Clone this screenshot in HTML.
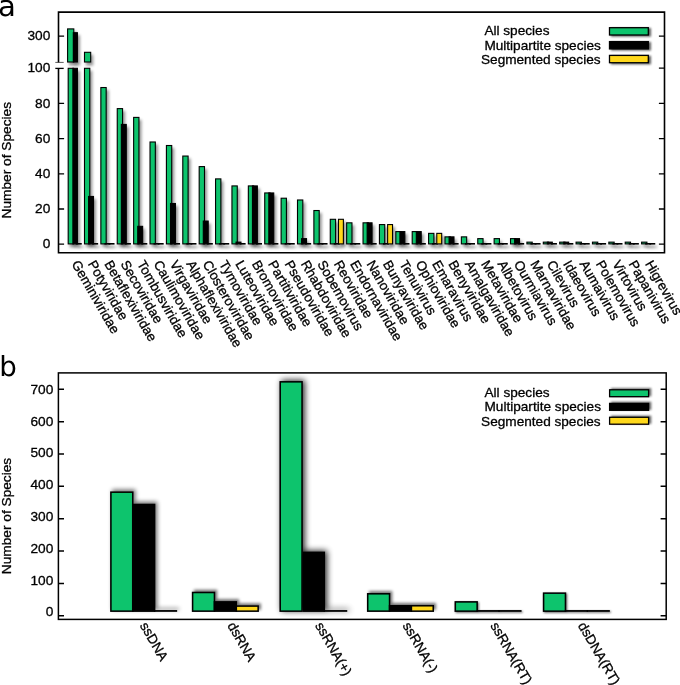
<!DOCTYPE html>
<html lang="en"><head><meta charset="utf-8"><title>Number of Species</title>
<style>html,body{margin:0;padding:0;background:#fff;}body{width:680px;height:685px;overflow:hidden;}svg{display:block;}text{font-family:"Liberation Sans",sans-serif;fill:#000;stroke:#000;stroke-width:0.3px;}.pl{font-family:"DejaVu Sans",sans-serif;font-size:27.7px;stroke:none;text-rendering:geometricPrecision;}.tk{font-size:13.7px;}.cat{font-size:13.45px;}.lg{font-size:13.62px;}.yl{font-size:13.7px;}</style></head><body>
<svg width="680" height="685" viewBox="0 0 680 685">
<defs><filter id="shA" x="-50%" y="-20%" width="250%" height="150%" filterUnits="objectBoundingBox"><feGaussianBlur in="SourceAlpha" stdDeviation="1.7"/><feOffset dx="1.7" dy="2.6" result="b"/><feComponentTransfer in="b" result="s"><feFuncA type="linear" slope="0.45"/></feComponentTransfer><feMerge><feMergeNode in="s"/><feMergeNode in="SourceGraphic"/></feMerge></filter><filter id="shB" x="-20%" y="-150%" width="150%" height="400%" filterUnits="objectBoundingBox"><feGaussianBlur in="SourceAlpha" stdDeviation="1.8"/><feOffset dx="2.4" dy="-2.4" result="b"/><feComponentTransfer in="b" result="s"><feFuncA type="linear" slope="0.55"/></feComponentTransfer><feMerge><feMergeNode in="s"/><feMergeNode in="SourceGraphic"/></feMerge></filter><filter id="shB2" x="-20%" y="-20%" width="150%" height="140%" filterUnits="objectBoundingBox"><feGaussianBlur in="SourceAlpha" stdDeviation="2.0"/><feOffset dx="2.4" dy="-2.0" result="b"/><feComponentTransfer in="b" result="s"><feFuncA type="linear" slope="0.55"/></feComponentTransfer><feMerge><feMergeNode in="s"/><feMergeNode in="SourceGraphic"/></feMerge></filter><filter id="shB3" x="-20%" y="-10%" width="150%" height="120%" filterUnits="objectBoundingBox"><feGaussianBlur in="SourceAlpha" stdDeviation="3"/><feOffset dx="2.0" dy="-0.6" result="b"/><feComponentTransfer in="b" result="s"><feFuncA type="linear" slope="0.85"/></feComponentTransfer><feMerge><feMergeNode in="s"/><feMergeNode in="SourceGraphic"/></feMerge></filter><filter id="shL" x="-10%" y="-50%" width="125%" height="220%" filterUnits="objectBoundingBox"><feGaussianBlur in="SourceAlpha" stdDeviation="1.1"/><feOffset dx="1.8" dy="1.0" result="b"/><feComponentTransfer in="b" result="s"><feFuncA type="linear" slope="0.65"/></feComponentTransfer><feMerge><feMergeNode in="s"/><feMergeNode in="SourceGraphic"/></feMerge></filter><filter id="shL2" x="-10%" y="-80%" width="125%" height="220%" filterUnits="objectBoundingBox"><feGaussianBlur in="SourceAlpha" stdDeviation="1.2"/><feOffset dx="1.6" dy="-1.0" result="b"/><feComponentTransfer in="b" result="s"><feFuncA type="linear" slope="0.6"/></feComponentTransfer><feMerge><feMergeNode in="s"/><feMergeNode in="SourceGraphic"/></feMerge></filter><filter id="shAo" x="0" y="0" width="680" height="300" filterUnits="userSpaceOnUse"><feGaussianBlur in="SourceAlpha" stdDeviation="1.7"/><feOffset dx="1.7" dy="2.6" result="b"/><feComponentTransfer in="b"><feFuncA type="linear" slope="0.42"/></feComponentTransfer></filter><filter id="shB4" x="-20%" y="-150%" width="150%" height="400%" filterUnits="objectBoundingBox"><feGaussianBlur in="SourceAlpha" stdDeviation="1.0"/><feOffset dx="1.4" dy="0.8" result="b"/><feComponentTransfer in="b" result="s"><feFuncA type="linear" slope="0.6"/></feComponentTransfer><feMerge><feMergeNode in="s"/><feMergeNode in="SourceGraphic"/></feMerge></filter></defs>
<rect x="0" y="0" width="680" height="685" fill="#fff"/>
<g id="panelA">
<text class="pl" style="font-size:29.2px" x="-2.0" y="15.6">a</text>
<g filter="url(#shAo)" stroke="#000" stroke-width="1.10">
<rect x="68.20" y="68.30" width="5.3" height="175.60" fill="#0dc46d"/>
<rect x="67.60" y="28.90" width="6.20" height="33.10" fill="#0dc46d"/>
<rect x="84.49" y="68.30" width="5.3" height="175.60" fill="#0dc46d"/>
<rect x="84.49" y="52.30" width="6.20" height="9.70" fill="#0dc46d"/>
<rect x="100.87" y="87.53" width="5.3" height="156.37" fill="#0dc46d"/>
<rect x="117.26" y="108.61" width="5.3" height="135.29" fill="#0dc46d"/>
<rect x="133.64" y="117.40" width="5.3" height="126.50" fill="#0dc46d"/>
<rect x="150.03" y="141.99" width="5.3" height="101.91" fill="#0dc46d"/>
<rect x="166.42" y="145.51" width="5.3" height="98.39" fill="#0dc46d"/>
<rect x="182.80" y="156.05" width="5.3" height="87.85" fill="#0dc46d"/>
<rect x="199.19" y="166.59" width="5.3" height="77.31" fill="#0dc46d"/>
<rect x="215.57" y="178.89" width="5.3" height="65.01" fill="#0dc46d"/>
<rect x="231.96" y="185.92" width="5.3" height="57.98" fill="#0dc46d"/>
<rect x="248.35" y="185.92" width="5.3" height="57.98" fill="#0dc46d"/>
<rect x="264.73" y="192.95" width="5.3" height="50.95" fill="#0dc46d"/>
<rect x="281.12" y="198.22" width="5.3" height="45.68" fill="#0dc46d"/>
<rect x="297.50" y="199.98" width="5.3" height="43.92" fill="#0dc46d"/>
<rect x="313.89" y="210.52" width="5.3" height="33.38" fill="#0dc46d"/>
<rect x="330.28" y="219.30" width="5.3" height="24.60" fill="#0dc46d"/>
<rect x="346.66" y="222.82" width="5.3" height="21.08" fill="#0dc46d"/>
<rect x="363.05" y="222.82" width="5.3" height="21.08" fill="#0dc46d"/>
<rect x="379.43" y="224.57" width="5.3" height="19.33" fill="#0dc46d"/>
<rect x="395.82" y="231.60" width="5.3" height="12.30" fill="#0dc46d"/>
<rect x="412.21" y="231.60" width="5.3" height="12.30" fill="#0dc46d"/>
<rect x="428.59" y="233.36" width="5.3" height="10.54" fill="#0dc46d"/>
<rect x="444.98" y="236.87" width="5.3" height="7.03" fill="#0dc46d"/>
<rect x="461.36" y="236.87" width="5.3" height="7.03" fill="#0dc46d"/>
<rect x="477.75" y="238.63" width="5.3" height="5.27" fill="#0dc46d"/>
<rect x="494.14" y="238.63" width="5.3" height="5.27" fill="#0dc46d"/>
<rect x="510.52" y="238.63" width="5.3" height="5.27" fill="#0dc46d"/>
<rect x="526.91" y="242.14" width="5.3" height="1.76" fill="#0dc46d"/>
<rect x="543.29" y="242.14" width="5.3" height="1.76" fill="#0dc46d"/>
<rect x="559.68" y="242.14" width="5.3" height="1.76" fill="#0dc46d"/>
<rect x="576.07" y="242.14" width="5.3" height="1.76" fill="#0dc46d"/>
<rect x="592.45" y="242.14" width="5.3" height="1.76" fill="#0dc46d"/>
<rect x="608.84" y="242.14" width="5.3" height="1.76" fill="#0dc46d"/>
<rect x="625.22" y="242.14" width="5.3" height="1.76" fill="#0dc46d"/>
<rect x="641.61" y="242.14" width="5.3" height="1.76" fill="#0dc46d"/>
</g>
<g filter="url(#shAo)" stroke="#000" stroke-width="1.10">
<rect x="72.90" y="68.30" width="4.5" height="175.60" fill="#000000"/>
<rect x="73.30" y="32.70" width="4.10" height="29.30" fill="#000000"/>
<rect x="88.59" y="196.46" width="4.9" height="47.44" fill="#000000"/>
<line x1="104.42" y1="243.8" x2="110.42" y2="243.8" stroke-width="1.6"/>
<rect x="121.36" y="124.42" width="4.9" height="119.48" fill="#000000"/>
<rect x="137.74" y="226.33" width="4.9" height="17.57" fill="#000000"/>
<line x1="153.58" y1="243.8" x2="159.58" y2="243.8" stroke-width="1.6"/>
<rect x="170.52" y="203.49" width="4.9" height="40.41" fill="#000000"/>
<line x1="186.35" y1="243.8" x2="192.35" y2="243.8" stroke-width="1.6"/>
<rect x="203.29" y="221.06" width="4.9" height="22.84" fill="#000000"/>
<line x1="219.12" y1="243.8" x2="225.12" y2="243.8" stroke-width="1.6"/>
<rect x="236.06" y="242.14" width="4.9" height="1.76" fill="#000000"/>
<rect x="252.45" y="185.92" width="4.9" height="57.98" fill="#000000"/>
<rect x="268.83" y="192.95" width="4.9" height="50.95" fill="#000000"/>
<line x1="284.67" y1="243.8" x2="290.67" y2="243.8" stroke-width="1.6"/>
<rect x="301.60" y="238.63" width="4.9" height="5.27" fill="#000000"/>
<line x1="317.44" y1="243.8" x2="323.44" y2="243.8" stroke-width="1.6"/>
<line x1="333.83" y1="243.8" x2="339.83" y2="243.8" stroke-width="1.6"/>
<line x1="350.21" y1="243.8" x2="356.21" y2="243.8" stroke-width="1.6"/>
<rect x="367.15" y="222.82" width="4.9" height="21.08" fill="#000000"/>
<line x1="382.98" y1="243.8" x2="388.98" y2="243.8" stroke-width="1.6"/>
<rect x="399.92" y="231.60" width="4.9" height="12.30" fill="#000000"/>
<rect x="416.31" y="231.60" width="4.9" height="12.30" fill="#000000"/>
<line x1="432.14" y1="243.8" x2="438.14" y2="243.8" stroke-width="1.6"/>
<rect x="449.08" y="236.87" width="4.9" height="7.03" fill="#000000"/>
<line x1="464.91" y1="243.8" x2="470.91" y2="243.8" stroke-width="1.6"/>
<line x1="481.30" y1="243.8" x2="487.30" y2="243.8" stroke-width="1.6"/>
<line x1="497.69" y1="243.8" x2="503.69" y2="243.8" stroke-width="1.6"/>
<rect x="514.62" y="238.63" width="4.9" height="5.27" fill="#000000"/>
<line x1="530.46" y1="243.8" x2="536.46" y2="243.8" stroke-width="1.6"/>
<rect x="547.39" y="242.14" width="4.9" height="1.76" fill="#000000"/>
<rect x="563.78" y="242.14" width="4.9" height="1.76" fill="#000000"/>
<line x1="579.62" y1="243.8" x2="585.62" y2="243.8" stroke-width="1.6"/>
<line x1="596.00" y1="243.8" x2="602.00" y2="243.8" stroke-width="1.6"/>
<line x1="612.39" y1="243.8" x2="618.39" y2="243.8" stroke-width="1.6"/>
<line x1="628.77" y1="243.8" x2="634.77" y2="243.8" stroke-width="1.6"/>
<line x1="645.16" y1="243.8" x2="651.16" y2="243.8" stroke-width="1.6"/>
</g>
<g filter="url(#shAo)" stroke="#000" stroke-width="1.10">
<line x1="75.75" y1="243.8" x2="81.75" y2="243.8" stroke-width="1.6"/>
<line x1="92.14" y1="243.8" x2="98.14" y2="243.8" stroke-width="1.6"/>
<line x1="108.52" y1="243.8" x2="114.52" y2="243.8" stroke-width="1.6"/>
<line x1="124.91" y1="243.8" x2="130.91" y2="243.8" stroke-width="1.6"/>
<line x1="141.29" y1="243.8" x2="147.29" y2="243.8" stroke-width="1.6"/>
<line x1="157.68" y1="243.8" x2="163.68" y2="243.8" stroke-width="1.6"/>
<line x1="174.07" y1="243.8" x2="180.07" y2="243.8" stroke-width="1.6"/>
<line x1="190.45" y1="243.8" x2="196.45" y2="243.8" stroke-width="1.6"/>
<line x1="206.84" y1="243.8" x2="212.84" y2="243.8" stroke-width="1.6"/>
<line x1="223.22" y1="243.8" x2="229.22" y2="243.8" stroke-width="1.6"/>
<line x1="239.61" y1="243.8" x2="245.61" y2="243.8" stroke-width="1.6"/>
<line x1="256.00" y1="243.8" x2="262.00" y2="243.8" stroke-width="1.6"/>
<line x1="272.38" y1="243.8" x2="278.38" y2="243.8" stroke-width="1.6"/>
<line x1="288.77" y1="243.8" x2="294.77" y2="243.8" stroke-width="1.6"/>
<line x1="305.15" y1="243.8" x2="311.15" y2="243.8" stroke-width="1.6"/>
<line x1="321.54" y1="243.8" x2="327.54" y2="243.8" stroke-width="1.6"/>
<rect x="338.48" y="219.30" width="4.9" height="24.60" fill="#ffd81a"/>
<line x1="354.31" y1="243.8" x2="360.31" y2="243.8" stroke-width="1.6"/>
<line x1="370.70" y1="243.8" x2="376.70" y2="243.8" stroke-width="1.6"/>
<rect x="387.63" y="224.57" width="4.9" height="19.33" fill="#ffd81a"/>
<line x1="403.47" y1="243.8" x2="409.47" y2="243.8" stroke-width="1.6"/>
<line x1="419.86" y1="243.8" x2="425.86" y2="243.8" stroke-width="1.6"/>
<rect x="436.79" y="233.36" width="4.9" height="10.54" fill="#ffd81a"/>
<line x1="452.63" y1="243.8" x2="458.63" y2="243.8" stroke-width="1.6"/>
<line x1="469.01" y1="243.8" x2="475.01" y2="243.8" stroke-width="1.6"/>
<line x1="485.40" y1="243.8" x2="491.40" y2="243.8" stroke-width="1.6"/>
<line x1="501.79" y1="243.8" x2="507.79" y2="243.8" stroke-width="1.6"/>
<line x1="518.17" y1="243.8" x2="524.17" y2="243.8" stroke-width="1.6"/>
<line x1="534.56" y1="243.8" x2="540.56" y2="243.8" stroke-width="1.6"/>
<line x1="550.94" y1="243.8" x2="556.94" y2="243.8" stroke-width="1.6"/>
<line x1="567.33" y1="243.8" x2="573.33" y2="243.8" stroke-width="1.6"/>
<line x1="583.72" y1="243.8" x2="589.72" y2="243.8" stroke-width="1.6"/>
<line x1="600.10" y1="243.8" x2="606.10" y2="243.8" stroke-width="1.6"/>
<line x1="616.49" y1="243.8" x2="622.49" y2="243.8" stroke-width="1.6"/>
<line x1="632.87" y1="243.8" x2="638.87" y2="243.8" stroke-width="1.6"/>
<line x1="649.26" y1="243.8" x2="655.26" y2="243.8" stroke-width="1.6"/>
</g>
<g stroke="#000" stroke-width="1.10" stroke-linejoin="miter">
<rect x="68.20" y="68.30" width="5.3" height="175.60" fill="#0dc46d"/>
<rect x="67.60" y="28.90" width="6.20" height="33.10" fill="#0dc46d"/>
<rect x="72.90" y="68.30" width="4.5" height="175.60" fill="#000000"/>
<rect x="73.30" y="32.70" width="4.10" height="29.30" fill="#000000"/>
<line x1="75.75" y1="243.8" x2="81.75" y2="243.8" stroke-width="1.6"/>
<rect x="84.49" y="68.30" width="5.3" height="175.60" fill="#0dc46d"/>
<rect x="84.49" y="52.30" width="6.20" height="9.70" fill="#0dc46d"/>
<rect x="88.59" y="196.46" width="4.9" height="47.44" fill="#000000"/>
<line x1="92.14" y1="243.8" x2="98.14" y2="243.8" stroke-width="1.6"/>
<rect x="100.87" y="87.53" width="5.3" height="156.37" fill="#0dc46d"/>
<line x1="104.42" y1="243.8" x2="110.42" y2="243.8" stroke-width="1.6"/>
<line x1="108.52" y1="243.8" x2="114.52" y2="243.8" stroke-width="1.6"/>
<rect x="117.26" y="108.61" width="5.3" height="135.29" fill="#0dc46d"/>
<rect x="121.36" y="124.42" width="4.9" height="119.48" fill="#000000"/>
<line x1="124.91" y1="243.8" x2="130.91" y2="243.8" stroke-width="1.6"/>
<rect x="133.64" y="117.40" width="5.3" height="126.50" fill="#0dc46d"/>
<rect x="137.74" y="226.33" width="4.9" height="17.57" fill="#000000"/>
<line x1="141.29" y1="243.8" x2="147.29" y2="243.8" stroke-width="1.6"/>
<rect x="150.03" y="141.99" width="5.3" height="101.91" fill="#0dc46d"/>
<line x1="153.58" y1="243.8" x2="159.58" y2="243.8" stroke-width="1.6"/>
<line x1="157.68" y1="243.8" x2="163.68" y2="243.8" stroke-width="1.6"/>
<rect x="166.42" y="145.51" width="5.3" height="98.39" fill="#0dc46d"/>
<rect x="170.52" y="203.49" width="4.9" height="40.41" fill="#000000"/>
<line x1="174.07" y1="243.8" x2="180.07" y2="243.8" stroke-width="1.6"/>
<rect x="182.80" y="156.05" width="5.3" height="87.85" fill="#0dc46d"/>
<line x1="186.35" y1="243.8" x2="192.35" y2="243.8" stroke-width="1.6"/>
<line x1="190.45" y1="243.8" x2="196.45" y2="243.8" stroke-width="1.6"/>
<rect x="199.19" y="166.59" width="5.3" height="77.31" fill="#0dc46d"/>
<rect x="203.29" y="221.06" width="4.9" height="22.84" fill="#000000"/>
<line x1="206.84" y1="243.8" x2="212.84" y2="243.8" stroke-width="1.6"/>
<rect x="215.57" y="178.89" width="5.3" height="65.01" fill="#0dc46d"/>
<line x1="219.12" y1="243.8" x2="225.12" y2="243.8" stroke-width="1.6"/>
<line x1="223.22" y1="243.8" x2="229.22" y2="243.8" stroke-width="1.6"/>
<rect x="231.96" y="185.92" width="5.3" height="57.98" fill="#0dc46d"/>
<rect x="236.06" y="242.14" width="4.9" height="1.76" fill="#000000"/>
<line x1="239.61" y1="243.8" x2="245.61" y2="243.8" stroke-width="1.6"/>
<rect x="248.35" y="185.92" width="5.3" height="57.98" fill="#0dc46d"/>
<rect x="252.45" y="185.92" width="4.9" height="57.98" fill="#000000"/>
<line x1="256.00" y1="243.8" x2="262.00" y2="243.8" stroke-width="1.6"/>
<rect x="264.73" y="192.95" width="5.3" height="50.95" fill="#0dc46d"/>
<rect x="268.83" y="192.95" width="4.9" height="50.95" fill="#000000"/>
<line x1="272.38" y1="243.8" x2="278.38" y2="243.8" stroke-width="1.6"/>
<rect x="281.12" y="198.22" width="5.3" height="45.68" fill="#0dc46d"/>
<line x1="284.67" y1="243.8" x2="290.67" y2="243.8" stroke-width="1.6"/>
<line x1="288.77" y1="243.8" x2="294.77" y2="243.8" stroke-width="1.6"/>
<rect x="297.50" y="199.98" width="5.3" height="43.92" fill="#0dc46d"/>
<rect x="301.60" y="238.63" width="4.9" height="5.27" fill="#000000"/>
<line x1="305.15" y1="243.8" x2="311.15" y2="243.8" stroke-width="1.6"/>
<rect x="313.89" y="210.52" width="5.3" height="33.38" fill="#0dc46d"/>
<line x1="317.44" y1="243.8" x2="323.44" y2="243.8" stroke-width="1.6"/>
<line x1="321.54" y1="243.8" x2="327.54" y2="243.8" stroke-width="1.6"/>
<rect x="330.28" y="219.30" width="5.3" height="24.60" fill="#0dc46d"/>
<line x1="333.83" y1="243.8" x2="339.83" y2="243.8" stroke-width="1.6"/>
<rect x="338.48" y="219.30" width="4.9" height="24.60" fill="#ffd81a"/>
<rect x="346.66" y="222.82" width="5.3" height="21.08" fill="#0dc46d"/>
<line x1="350.21" y1="243.8" x2="356.21" y2="243.8" stroke-width="1.6"/>
<line x1="354.31" y1="243.8" x2="360.31" y2="243.8" stroke-width="1.6"/>
<rect x="363.05" y="222.82" width="5.3" height="21.08" fill="#0dc46d"/>
<rect x="367.15" y="222.82" width="4.9" height="21.08" fill="#000000"/>
<line x1="370.70" y1="243.8" x2="376.70" y2="243.8" stroke-width="1.6"/>
<rect x="379.43" y="224.57" width="5.3" height="19.33" fill="#0dc46d"/>
<line x1="382.98" y1="243.8" x2="388.98" y2="243.8" stroke-width="1.6"/>
<rect x="387.63" y="224.57" width="4.9" height="19.33" fill="#ffd81a"/>
<rect x="395.82" y="231.60" width="5.3" height="12.30" fill="#0dc46d"/>
<rect x="399.92" y="231.60" width="4.9" height="12.30" fill="#000000"/>
<line x1="403.47" y1="243.8" x2="409.47" y2="243.8" stroke-width="1.6"/>
<rect x="412.21" y="231.60" width="5.3" height="12.30" fill="#0dc46d"/>
<rect x="416.31" y="231.60" width="4.9" height="12.30" fill="#000000"/>
<line x1="419.86" y1="243.8" x2="425.86" y2="243.8" stroke-width="1.6"/>
<rect x="428.59" y="233.36" width="5.3" height="10.54" fill="#0dc46d"/>
<line x1="432.14" y1="243.8" x2="438.14" y2="243.8" stroke-width="1.6"/>
<rect x="436.79" y="233.36" width="4.9" height="10.54" fill="#ffd81a"/>
<rect x="444.98" y="236.87" width="5.3" height="7.03" fill="#0dc46d"/>
<rect x="449.08" y="236.87" width="4.9" height="7.03" fill="#000000"/>
<line x1="452.63" y1="243.8" x2="458.63" y2="243.8" stroke-width="1.6"/>
<rect x="461.36" y="236.87" width="5.3" height="7.03" fill="#0dc46d"/>
<line x1="464.91" y1="243.8" x2="470.91" y2="243.8" stroke-width="1.6"/>
<line x1="469.01" y1="243.8" x2="475.01" y2="243.8" stroke-width="1.6"/>
<rect x="477.75" y="238.63" width="5.3" height="5.27" fill="#0dc46d"/>
<line x1="481.30" y1="243.8" x2="487.30" y2="243.8" stroke-width="1.6"/>
<line x1="485.40" y1="243.8" x2="491.40" y2="243.8" stroke-width="1.6"/>
<rect x="494.14" y="238.63" width="5.3" height="5.27" fill="#0dc46d"/>
<line x1="497.69" y1="243.8" x2="503.69" y2="243.8" stroke-width="1.6"/>
<line x1="501.79" y1="243.8" x2="507.79" y2="243.8" stroke-width="1.6"/>
<rect x="510.52" y="238.63" width="5.3" height="5.27" fill="#0dc46d"/>
<rect x="514.62" y="238.63" width="4.9" height="5.27" fill="#000000"/>
<line x1="518.17" y1="243.8" x2="524.17" y2="243.8" stroke-width="1.6"/>
<rect x="526.91" y="242.14" width="5.3" height="1.76" fill="#0dc46d"/>
<line x1="530.46" y1="243.8" x2="536.46" y2="243.8" stroke-width="1.6"/>
<line x1="534.56" y1="243.8" x2="540.56" y2="243.8" stroke-width="1.6"/>
<rect x="543.29" y="242.14" width="5.3" height="1.76" fill="#0dc46d"/>
<rect x="547.39" y="242.14" width="4.9" height="1.76" fill="#000000"/>
<line x1="550.94" y1="243.8" x2="556.94" y2="243.8" stroke-width="1.6"/>
<rect x="559.68" y="242.14" width="5.3" height="1.76" fill="#0dc46d"/>
<rect x="563.78" y="242.14" width="4.9" height="1.76" fill="#000000"/>
<line x1="567.33" y1="243.8" x2="573.33" y2="243.8" stroke-width="1.6"/>
<rect x="576.07" y="242.14" width="5.3" height="1.76" fill="#0dc46d"/>
<line x1="579.62" y1="243.8" x2="585.62" y2="243.8" stroke-width="1.6"/>
<line x1="583.72" y1="243.8" x2="589.72" y2="243.8" stroke-width="1.6"/>
<rect x="592.45" y="242.14" width="5.3" height="1.76" fill="#0dc46d"/>
<line x1="596.00" y1="243.8" x2="602.00" y2="243.8" stroke-width="1.6"/>
<line x1="600.10" y1="243.8" x2="606.10" y2="243.8" stroke-width="1.6"/>
<rect x="608.84" y="242.14" width="5.3" height="1.76" fill="#0dc46d"/>
<line x1="612.39" y1="243.8" x2="618.39" y2="243.8" stroke-width="1.6"/>
<line x1="616.49" y1="243.8" x2="622.49" y2="243.8" stroke-width="1.6"/>
<rect x="625.22" y="242.14" width="5.3" height="1.76" fill="#0dc46d"/>
<line x1="628.77" y1="243.8" x2="634.77" y2="243.8" stroke-width="1.6"/>
<line x1="632.87" y1="243.8" x2="638.87" y2="243.8" stroke-width="1.6"/>
<rect x="641.61" y="242.14" width="5.3" height="1.76" fill="#0dc46d"/>
<line x1="645.16" y1="243.8" x2="651.16" y2="243.8" stroke-width="1.6"/>
<line x1="649.26" y1="243.8" x2="655.26" y2="243.8" stroke-width="1.6"/>
</g>
<g filter="url(#shL)" stroke="#000" stroke-width="1.3">
<rect x="609.5" y="27.7" width="38.8" height="7.3" fill="#0dc46d"/>
<rect x="609.5" y="41.6" width="38.8" height="7.3" fill="#000000"/>
<rect x="609.5" y="55.4" width="38.8" height="7.3" fill="#ffd81a"/>
</g>
<text class="lg" x="484.4" y="35.1">All species</text>
<text class="lg" x="484.4" y="49.7">Multipartite species</text>
<text class="lg" x="481.0" y="63.6">Segmented species</text>
<g fill="none" stroke="#000" stroke-width="1.3" stroke-linecap="butt">
<path d="M58.5 62.4 V12.15 H664.5 V252.7 H58.5 V68.4" stroke-width="1.6"/>
<path d="M55.3 62.4 H63.7" stroke-width="0.8" stroke="#333"/>
<path d="M55.3 68.4 H63.7"/>
<path d="M58.5 244.20 h5.6 M664.5 244.20 h-5.6"/>
<path d="M58.5 209.00 h5.6 M664.5 209.00 h-5.6"/>
<path d="M58.5 173.80 h5.6 M664.5 173.80 h-5.6"/>
<path d="M58.5 138.60 h5.6 M664.5 138.60 h-5.6"/>
<path d="M58.5 103.40 h5.6 M664.5 103.40 h-5.6"/>
<path d="M664.5 68.20 h-5.6 M58.5 36.2 h5.6 M664.5 36.2 h-5.6"/>
</g>
<text class="tk" x="50.3" y="248.45" text-anchor="end">0</text>
<text class="tk" x="50.3" y="213.25" text-anchor="end">20</text>
<text class="tk" x="50.3" y="178.05" text-anchor="end">40</text>
<text class="tk" x="50.3" y="142.85" text-anchor="end">60</text>
<text class="tk" x="50.3" y="107.65" text-anchor="end">80</text>
<text class="tk" x="50.3" y="72.45" text-anchor="end">100</text>
<text class="tk" x="50.3" y="39.95" text-anchor="end">300</text>
<text class="yl" transform="translate(11.2,160.2) rotate(-90)" text-anchor="middle">Number of Species</text>
<text class="cat" transform="translate(71.20,263.65) rotate(60)">Geminiviridae</text>
<text class="cat" transform="translate(87.59,263.65) rotate(60)">Potyviridae</text>
<text class="cat" transform="translate(103.97,263.65) rotate(60)">Betaflexiviridae</text>
<text class="cat" transform="translate(120.36,263.65) rotate(60)">Secoviridae</text>
<text class="cat" transform="translate(136.74,263.65) rotate(60)">Tombusviridae</text>
<text class="cat" transform="translate(153.13,263.65) rotate(60)">Caulimoviridae</text>
<text class="cat" transform="translate(169.52,263.65) rotate(60)">Virgaviridae</text>
<text class="cat" transform="translate(185.90,263.65) rotate(60)">Alphaflexiviridae</text>
<text class="cat" transform="translate(202.29,263.65) rotate(60)">Closteroviridae</text>
<text class="cat" transform="translate(218.67,263.65) rotate(60)">Tymoviridae</text>
<text class="cat" transform="translate(235.06,263.65) rotate(60)">Luteoviridae</text>
<text class="cat" transform="translate(251.45,263.65) rotate(60)">Bromoviridae</text>
<text class="cat" transform="translate(267.83,263.65) rotate(60)">Partitiviridae</text>
<text class="cat" transform="translate(284.22,263.65) rotate(60)">Pseudoviridae</text>
<text class="cat" transform="translate(300.60,263.65) rotate(60)">Rhabdoviridae</text>
<text class="cat" transform="translate(316.99,263.65) rotate(60)">Sobemovirus</text>
<text class="cat" transform="translate(333.38,263.65) rotate(60)">Reoviridae</text>
<text class="cat" transform="translate(349.76,263.65) rotate(60)">Endornaviridae</text>
<text class="cat" transform="translate(366.15,263.65) rotate(60)">Nanoviridae</text>
<text class="cat" transform="translate(382.53,263.65) rotate(60)">Bunyaviridae</text>
<text class="cat" transform="translate(398.92,263.65) rotate(60)">Tenuivirus</text>
<text class="cat" transform="translate(415.31,263.65) rotate(60)">Ophioviridae</text>
<text class="cat" transform="translate(431.69,263.65) rotate(60)">Emaravirus</text>
<text class="cat" transform="translate(448.08,263.65) rotate(60)">Benyviridae</text>
<text class="cat" transform="translate(464.46,263.65) rotate(60)">Amalgaviridae</text>
<text class="cat" transform="translate(480.85,263.65) rotate(60)">Metaviridae</text>
<text class="cat" transform="translate(497.24,263.65) rotate(60)">Albetovirus</text>
<text class="cat" transform="translate(513.62,263.65) rotate(60)">Ourmiavirus</text>
<text class="cat" transform="translate(530.01,263.65) rotate(60)">Marnaviridae</text>
<text class="cat" transform="translate(546.39,263.65) rotate(60)">Cilevirus</text>
<text class="cat" transform="translate(562.78,263.65) rotate(60)">Idaeovirus</text>
<text class="cat" transform="translate(579.17,263.65) rotate(60)">Aumaivirus</text>
<text class="cat" transform="translate(595.55,263.65) rotate(60)">Polemovirus</text>
<text class="cat" transform="translate(611.94,263.65) rotate(60)">Virtovirus</text>
<text class="cat" transform="translate(628.32,263.65) rotate(60)">Papanivirus</text>
<text class="cat" transform="translate(644.71,263.65) rotate(60)">Higrevirus</text>
</g>
<g id="panelB">
<text class="pl" x="-0.85" y="375.8">b</text>
<g filter="url(#shB2)" stroke="#000" stroke-width="1.55">
<rect x="110.90" y="492.18" width="21.85" height="118.97" fill="#0dc46d"/>
<rect x="132.75" y="504.48" width="21.85" height="106.67" fill="#000000"/>
<line x1="153.90" y1="610.95" x2="177.15" y2="610.95" stroke-width="1.8"/>
</g>
<g filter="url(#shB)" stroke="#000" stroke-width="1.55">
<rect x="192.60" y="592.50" width="21.85" height="18.65" fill="#0dc46d"/>
<rect x="214.45" y="601.89" width="21.85" height="9.26" fill="#000000"/>
<rect x="236.30" y="606.09" width="21.85" height="5.06" fill="#ffd81a"/>
</g>
<g filter="url(#shB3)" stroke="#000" stroke-width="1.55">
<rect x="280.20" y="381.84" width="21.85" height="229.31" fill="#0dc46d"/>
<rect x="303.45" y="552.37" width="20.85" height="58.78" fill="#000000"/>
<line x1="323.60" y1="610.95" x2="347.25" y2="610.95" stroke-width="1.8"/>
</g>
<g filter="url(#shB)" stroke="#000" stroke-width="1.55">
<rect x="367.70" y="593.80" width="21.85" height="17.35" fill="#0dc46d"/>
<rect x="389.55" y="605.77" width="21.85" height="5.38" fill="#000000"/>
<rect x="411.40" y="605.77" width="21.85" height="5.38" fill="#ffd81a"/>
</g>
<g filter="url(#shB4)" stroke="#000" stroke-width="1.55">
<rect x="455.30" y="601.89" width="21.85" height="9.26" fill="#0dc46d"/>
<line x1="476.45" y1="610.95" x2="499.70" y2="610.95" stroke-width="1.8"/>
<line x1="498.30" y1="610.95" x2="521.55" y2="610.95" stroke-width="1.8"/>
</g>
<g filter="url(#shB4)" stroke="#000" stroke-width="1.55">
<rect x="543.60" y="593.15" width="21.85" height="18.00" fill="#0dc46d"/>
<line x1="564.75" y1="610.95" x2="588.00" y2="610.95" stroke-width="1.8"/>
<line x1="586.60" y1="610.95" x2="609.85" y2="610.95" stroke-width="1.8"/>
</g>
<g filter="url(#shL2)" stroke="#000" stroke-width="1.3">
<rect x="609.6" y="389.8" width="39" height="6.9" fill="#0dc46d"/>
<rect x="609.6" y="403.4" width="39" height="6.9" fill="#000000"/>
<rect x="609.6" y="417.3" width="39" height="6.9" fill="#ffd81a"/>
</g>
<text class="lg" x="484.5" y="396.9">All species</text>
<text class="lg" x="484.5" y="411.4">Multipartite species</text>
<text class="lg" x="481.1" y="425.8">Segmented species</text>
<g fill="none" stroke="#000" stroke-width="1.5">
<rect x="58.4" y="372.9" width="607.8000000000001" height="246.5"/>
<path d="M58.4 615.80 h5.6 M666.2 615.80 h-5.6"/>
<path d="M58.4 583.44 h5.6 M666.2 583.44 h-5.6"/>
<path d="M58.4 551.08 h5.6 M666.2 551.08 h-5.6"/>
<path d="M58.4 518.72 h5.6 M666.2 518.72 h-5.6"/>
<path d="M58.4 486.36 h5.6 M666.2 486.36 h-5.6"/>
<path d="M58.4 454.00 h5.6 M666.2 454.00 h-5.6"/>
<path d="M58.4 421.64 h5.6 M666.2 421.64 h-5.6"/>
<path d="M58.4 389.28 h5.6 M666.2 389.28 h-5.6"/>
</g>
<text class="tk" x="53.3" y="616.30" text-anchor="end">0</text>
<text class="tk" x="53.3" y="584.53" text-anchor="end">100</text>
<text class="tk" x="53.3" y="552.76" text-anchor="end">200</text>
<text class="tk" x="53.3" y="520.99" text-anchor="end">300</text>
<text class="tk" x="53.3" y="489.22" text-anchor="end">400</text>
<text class="tk" x="53.3" y="457.45" text-anchor="end">500</text>
<text class="tk" x="53.3" y="425.68" text-anchor="end">600</text>
<text class="tk" x="53.3" y="393.91" text-anchor="end">700</text>
<text class="yl" transform="translate(11.2,516) rotate(-90)" text-anchor="middle">Number of Species</text>
<text class="cat" style="font-size:13.6px" transform="translate(139.50,625.4) rotate(60)">ssDNA</text>
<text class="cat" style="font-size:13.6px" transform="translate(227.12,625.4) rotate(60)">dsRNA</text>
<text class="cat" style="font-size:13.6px" transform="translate(314.74,625.4) rotate(60)">ssRNA(+)</text>
<text class="cat" style="font-size:13.6px" transform="translate(402.36,625.4) rotate(60)">ssRNA(-)</text>
<text class="cat" style="font-size:13.6px" transform="translate(489.98,625.4) rotate(60)">ssRNA(RT)</text>
<text class="cat" style="font-size:13.6px" transform="translate(577.60,625.4) rotate(60)">dsDNA(RT)</text>
</g>
</svg></body></html>
